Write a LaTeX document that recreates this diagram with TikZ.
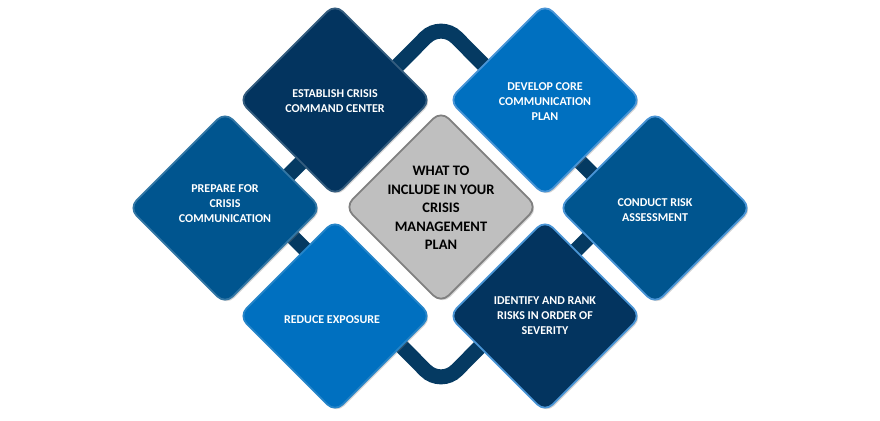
\documentclass[tikz,border=0pt]{standalone}
\usepackage{fontspec}
\setmainfont{Carlito}
\usetikzlibrary{shadows}
\definecolor{navy}{HTML}{03345F}
\definecolor{band}{HTML}{053A62}
\definecolor{midblue}{HTML}{0070C0}
\definecolor{steel}{HTML}{00558F}
\definecolor{lightedge}{HTML}{4A95D6}
\definecolor{grayfill}{HTML}{BFBFBF}
\definecolor{grayedge}{HTML}{808080}
\tikzset{
  dia/.style={draw, line width=1.8pt, rectangle, rounded corners=11pt, rotate=45,
    minimum width=136pt, minimum height=136pt,
    drop shadow={shadow xshift=1.5pt, shadow yshift=-1.5pt, opacity=0.35}},
  lbl/.style={text=white, font=\bfseries\fontsize{12}{15}\selectfont, align=center},
}
\begin{document}
\begin{tikzpicture}[x=1pt,y=-1pt]
\useasboundingbox (0,0) rectangle (880,420);
% connecting band
\draw[band, line width=15pt, rounded corners=22pt]
  (441,22) -- (622,204) -- (441,386) -- (260,204) -- cycle;
\node[dia, fill=navy, draw=navy!80!white] (d1) at (335,100) {};
\node[dia, fill=midblue, draw=lightedge] (d2) at (545,100) {};
\node[dia, fill=steel, draw=steel!80!white] (d3) at (225,208) {};
\node[dia, fill=steel, draw=lightedge] (d4) at (655,208) {};
\node[dia, fill=midblue, draw=midblue!85!white] (d5) at (335,316) {};
\node[dia, fill=navy, draw=lightedge] (d6) at (545,316) {};
\node[dia, fill=grayfill, draw=grayedge] (c) at (441,207) {};
\node[lbl] (t1) at (335,101) {ESTABLISH CRISIS\\COMMAND CENTER};
\node[lbl] (t2) at (545,102) {DEVELOP CORE\\COMMUNICATION\\PLAN};
\node[lbl] (t3) at (225,204) {PREPARE FOR\\CRISIS\\COMMUNICATION};
\node[lbl] (t4) at (655,210) {CONDUCT RISK\\ASSESSMENT};
\node[lbl] (t5) at (332,320) {REDUCE EXPOSURE};
\node[lbl] (t6) at (545,316) {IDENTIFY AND RANK\\RISKS IN ORDER OF\\SEVERITY};
\node[lbl, text=black, font=\bfseries\fontsize{14.5}{18.5}\selectfont] (tc) at (441,208)
  {WHAT TO\\INCLUDE IN YOUR\\CRISIS\\MANAGEMENT\\PLAN};
\end{tikzpicture}
\end{document}
